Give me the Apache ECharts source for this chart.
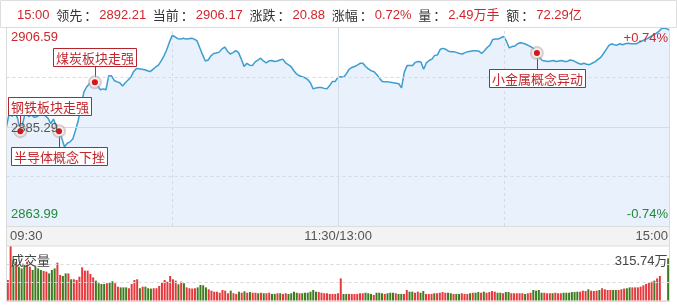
<!DOCTYPE html>
<html><head><meta charset="utf-8">
<script src="https://cdn.jsdelivr.net/npm/echarts@6/dist/echarts.min.js"></script>
<style>html,body{margin:0;padding:0;background:#fff}#c{width:677px;height:308px}</style>
</head><body><div id="c"></div>
<script>
// ---------- data ----------
const times = [];
(function(){
  const f = m => String(Math.floor(m/60)).padStart(2,'0') + ':' + String(m%60).padStart(2,'0');
  for (let m = 9*60+30; m <= 11*60+30; m++) times.push(f(m));
  for (let m = 13*60+1; m <= 15*60; m++) times.push(f(m));
})();

const prevClose = 2885.29;
const priceMax = 2906.59;
const priceMin = 2863.99;
const pctLabels = ['+0.74%', '-0.74%'];
const timeLabels = ['09:30', '11:30/13:00', '15:00'];
const volMax = 315.74;
const volMaxLabel = '315.74万';
const volTitle = '成交量';

const headerTime = '15:00';
const headerLabels = ['领先', '当前', '涨跌', '涨幅', '量', '额'];
const headerValues = ['2892.21', '2906.17', '20.88', '0.72%', '2.49万手', '72.29亿'];

const prices = [
2885.4,2888.3,2887.6,2888.5,2887.2,2884.4,2886.4,2888.9,2887.5,2887.9,
2887.4,2887.5,2887.9,2888.1,2887.7,2887.2,2886.0,2887.0,2885.5,2884.4,
2882.9,2881.05,2881.8,2882.1,2882.7,2884.6,2886.8,2889.8,2892.8,2893.9,
2894.6,2895.1,2894.9,2894.1,2893.3,2893.5,2893.3,2896.3,2896.3,2895.3,
2895.0,2894.8,2894.1,2894.8,2895.4,2896.0,2897.2,2897.9,2897.8,2897.7,
2897.6,2897.4,2897.2,2897.7,2898.2,2898.6,2899.5,2900.6,2901.9,2903.6,
2905.0,2904.7,2904.3,2904.2,2904.4,2904.2,2904.3,2904.4,2904.2,2903.8,
2902.3,2900.8,2899.5,2899.7,2900.6,2901.1,2901.2,2901.4,2902.1,2902.5,
2901.6,2901.0,2901.3,2901.7,2901.3,2899.9,2898.3,2899.0,2898.6,2898.5,
2899.3,2899.7,2900.1,2899.5,2899.1,2899.5,2899.6,2899.4,2899.5,2899.7,
2899.9,2899.1,2898.7,2898.3,2897.4,2896.7,2896.3,2896.1,2895.9,2895.5,
2894.8,2893.5,2893.7,2893.8,2893.8,2893.6,2893.5,2894.2,2895.1,2895.1,
2896.0,2896.1,2896.0,2896.7,2897.7,2898.1,2898.3,2898.6,2899.0,2899.0,
2898.3,2897.8,2897.4,2897.2,2896.6,2895.8,2895.1,2895.0,2895.0,2894.9,
2894.8,2894.7,2894.6,2893.7,2897.1,2898.5,2898.5,2898.5,2899.2,2899.4,
2899.3,2897.7,2899.1,2899.6,2899.9,2900.7,2900.8,2902.0,2902.2,2902.0,
2901.6,2901.5,2901.5,2901.3,2901.1,2901.0,2901.3,2901.5,2901.6,2901.7,
2901.7,2901.6,2901.1,2901.7,2902.4,2902.9,2904.1,2904.2,2904.2,2904.5,
2904.8,2903.7,2902.3,2902.6,2902.7,2903.2,2903.4,2903.3,2903.1,2902.8,
2902.5,2902.1,2901.2,2900.2,2899.6,2899.5,2899.4,2899.5,2899.6,2899.4,
2899.5,2899.6,2899.4,2899.4,2899.7,2899.6,2899.3,2899.0,2898.8,2899.0,
2898.8,2898.7,2899.0,2899.3,2899.8,2900.2,2901.0,2901.9,2902.8,2903.2,
2903.0,2902.9,2903.2,2903.0,2903.2,2903.3,2903.2,2903.2,2903.2,2903.5,
2903.8,2904.1,2904.3,2904.7,2905.0,2905.4,2905.8,2906.4,2906.59,2906.4,
2906.17];

const volumes = [
118.8,315.74,234.6,225,196,186,206,225,196,177,
196,186,177,171,167,157,177,186,219,148,
142,157,157,123,123,119,138,192,173,173,
154,134,115,100,96,96,100,103,111,100,
80,76,76,76,71,96,119,123,71,80,
80,71,69,71,71,84,103,119,109,142,
123,115,94,109,100,76,71,69,71,76,
90,88,76,65,57,51,51,45,61,57,
42,57,42,38,51,45,53,45,49,45,
45,42,45,42,42,45,38,38,42,42,
38,42,38,42,51,45,42,42,45,45,
51,61,51,49,45,42,42,38,38,38,
42,128,38,38,38,38,38,38,42,42,
45,42,38,32,45,45,42,38,42,45,
45,42,38,38,38,61,51,51,45,51,
45,55,38,38,38,42,42,45,49,45,
45,42,38,38,38,42,38,38,42,45,
45,49,45,51,45,49,55,51,45,45,
42,49,49,42,42,42,42,42,38,42,
45,61,57,61,45,45,42,42,42,45,
42,42,45,45,45,49,49,51,51,57,
55,65,57,55,57,61,71,65,61,61,
61,61,61,65,69,71,76,76,76,76,
80,88,96,103,109,115,128,142,1.5,1.5,
244];

// 1 = up minute (red), -1 = down minute (green)
const volDir = [
 1, 1,-1, 1,-1,-1,-1, 1, 1,-1,
-1,-1,-1, 1, 1,-1,-1,-1, 1, 1,
-1,-1, 1,-1, 1, 1, 1, 1, 1, 1,
 1, 1,-1,-1,-1,-1, 1,-1,-1, 1,
 1,-1,-1,-1, 1, 1, 1, 1,-1, 1,
-1,-1,-1, 1, 1, 1, 1, 1, 1, 1,
 1, 1,-1, 1,-1, 1, 1, 1, 1,-1,
-1,-1,-1, 1, 1, 1, 1, 1, 1, 1,
 1,-1, 1, 1,-1, 1,-1, 1,-1, 1,
 1,-1, 1,-1, 1, 1,-1,-1, 1,-1,
 1, 1,-1,-1,-1,-1, 1,-1,-1,-1,
-1,-1,-1, 1, 1, 1, 1, 1, 1, 1,
 1, 1,-1,-1, 1, 1, 1, 1, 1, 1,
-1,-1,-1, 1,-1,-1,-1, 1,-1,-1,
-1, 1,-1,-1, 1, 1,-1,-1, 1, 1,
-1,-1, 1, 1, 1,-1, 1, 1, 1, 1,
-1,-1, 1,-1,-1, 1, 1, 1,-1, 1,
-1,-1, 1,-1, 1, 1, 1, 1,-1,-1,
 1,-1,-1, 1, 1, 1, 1, 1,-1, 1,
 1,-1,-1,-1,-1, 1, 1, 1,-1, 1,
 1, 1,-1,-1,-1,-1,-1,-1, 1, 1,
 1,-1, 1, 1, 1,-1, 1, 1, 1, 1,
-1,-1, 1, 1, 1,-1,-1, 1, 1, 1,
 1, 1, 1, 1, 1,-1, 1, 1, 1, 1,
-1];

const annIndex = [5, 19, 32, 192];
const annTexts = ['钢铁板块走强', '半导体概念下挫', '煤炭板块走强', '小金属概念异动'];
// layout (not data): -1 box above the point, 1 box below
const annSide = [-1, 1, -1, 1];

// ---------- styles ----------
const RED = '#d0262c', GREEN = '#22893a', GRAY = '#555';
const FONT = '"Liberation Sans", Arial, "Noto Sans CJK SC", sans-serif';
const CJK = '"Noto Sans CJK SC", sans-serif';
const GL = {left: 6.5, right: 7.5, top: 28, height: 198};
const GV = {left: 6.5, right: 7.5, top: 246, height: 54.5};
const gridLine = '#d3dbe6';

const chart = echarts.init(document.getElementById('c'), null, {renderer: 'canvas'});

function ml(data) {
  return {silent: true, symbol: 'none', animation: false, label: {show: false}, data: data};
}
const dashed = {color: gridLine, type: [3, 3], width: 1};
const solid = {color: gridLine, type: 'solid', width: 1};

chart.setOption({
  animation: false,
  backgroundColor: '#fff',
  grid: [
    Object.assign({show: true, backgroundColor: '#fff', borderWidth: 0}, GL),
    Object.assign({show: false}, GV)
  ],
  xAxis: [
    {type: 'category', data: times, boundaryGap: false, gridIndex: 0, show: false},
    {type: 'category', data: times, boundaryGap: true, gridIndex: 1, show: false}
  ],
  yAxis: [
    {type: 'value', min: priceMin, max: priceMax, gridIndex: 0, show: false, splitLine: {show: false}},
    {type: 'value', min: 0, max: volMax, gridIndex: 1, show: false, splitLine: {show: false}}
  ],
  series: [
    {
      type: 'line', xAxisIndex: 0, yAxisIndex: 0, data: prices, symbol: 'none', smooth: false,
      lineStyle: {color: '#3d9dd0', width: 1.5},
      areaStyle: {color: '#e8f1fc', origin: 'start', opacity: 1},
      z: 2,
      markLine: ml([
        {yAxis: (priceMax + prevClose) / 2, lineStyle: dashed},
        {yAxis: (priceMin + prevClose) / 2, lineStyle: dashed},
        {yAxis: prevClose, lineStyle: solid},
        {xAxis: times[60], lineStyle: dashed},
        {xAxis: times[180], lineStyle: dashed},
        {xAxis: times[120], lineStyle: solid}
      ])
    },
    {
      type: 'bar', xAxisIndex: 1, yAxisIndex: 1, barWidth: 2,
      data: volumes.map((v, i) => ({value: v, itemStyle: {color: volDir[i] > 0 ? '#e6393d' : '#3e7c1f'}})),
      markLine: ml([
        {yAxis: volMax / 3, lineStyle: {color: '#d8d8d8', type: [3, 3], width: 1}},
        {yAxis: volMax * 2 / 3, lineStyle: {color: '#d8d8d8', type: [3, 3], width: 1}}
      ]),
      z: 3
    },
    {
      type: 'custom', xAxisIndex: 0, yAxisIndex: 0, clip: false, z: 10,
      data: annIndex.map(i => [i, prices[i]]),
      encode: {x: 0, y: 1},
      renderItem: function (params, api) {
        const k = params.dataIndex;
        const pt = api.coord([api.value(0), api.value(1)]);
        const txt = annTexts[k];
        const side = annSide[k];
        const w = txt.length * 13 + 5, h = 18;
        let bx = Math.max(pt[0] - w / 2, params.coordSys.x + 1);
        bx = Math.round(bx) + 0.5;
        const by = Math.round(pt[1] + side * 25 - h / 2) + 0.5;
        const edgeY = side < 0 ? by + h : by;
        const px = Math.round(pt[0]) + 0.5;
        return {type: 'group', children: [
          {type: 'line', shape: {x1: px, y1: pt[1], x2: px, y2: edgeY}, style: {stroke: '#c1272d', lineWidth: 1}},
          {type: 'rect', shape: {x: bx, y: by, width: w, height: h}, style: {fill: '#fff', stroke: '#b3262b', lineWidth: 1}},
          {type: 'text', style: {text: txt, x: bx + w / 2, y: by + h / 2 + 0.5, align: 'center', verticalAlign: 'middle', fill: '#c1272d', font: '13px ' + CJK}},
          {type: 'circle', shape: {cx: pt[0], cy: pt[1], r: 7}, style: {fill: 'rgba(185,165,165,0.55)'}},
          {type: 'circle', shape: {cx: pt[0], cy: pt[1], r: 5}, style: {fill: '#f3eded'}},
          {type: 'circle', shape: {cx: pt[0], cy: pt[1], r: 3}, style: {fill: '#d3151c'}}
        ]};
      }
    }
  ]
});

// ---------- texts & frames positioned through the axes ----------
const yTop = chart.convertToPixel({xAxisIndex: 0, yAxisIndex: 0}, [0, priceMax])[1];
const yBot = chart.convertToPixel({xAxisIndex: 0, yAxisIndex: 0}, [0, priceMin])[1];
const yMid = chart.convertToPixel({xAxisIndex: 0, yAxisIndex: 0}, [0, prevClose])[1];
const xL = chart.convertToPixel({xAxisIndex: 0, yAxisIndex: 0}, [0, prevClose])[0];
const xR = chart.convertToPixel({xAxisIndex: 0, yAxisIndex: 0}, [times.length - 1, prevClose])[0];
const xMid = chart.convertToPixel({xAxisIndex: 0, yAxisIndex: 0}, [120, prevClose])[0];
const vTop = chart.convertToPixel({xAxisIndex: 1, yAxisIndex: 1}, [0, volMax])[1];
const vBot = chart.convertToPixel({xAxisIndex: 1, yAxisIndex: 1}, [0, 0])[1];

function txt(text, x, y, color, align, font) {
  return {type: 'text', silent: true, z: 20, style: {text: text, x: x, y: y, fill: color, align: align || 'left', verticalAlign: 'middle', font: '13px ' + (font || FONT)}};
}

let headerRich = '{t|' + headerTime + '}';
headerLabels.forEach((l, i) => { headerRich += '  {l|' + l + '}{c|：}{t|' + headerValues[i] + '}'; });

const bandTop = yBot + 0.5, bandBot = vTop;
chart.setOption({
  graphic: [
    {type: 'rect', silent: true, z: 1, shape: {x: 0.5, y: 0.5, width: 676, height: 27}, style: {fill: '#fff', stroke: '#dedede', lineWidth: 1}},
    {type: 'text', silent: true, z: 20, style: {
      text: headerRich, x: 17, y: 15, verticalAlign: 'middle',
      rich: {
        t: {fill: RED, font: '13px ' + FONT},
        l: {fill: '#333', font: '13px ' + CJK},
        c: {fill: '#333', font: '13px ' + CJK, width: 17, align: 'center'}
      }
    }},
    // axis band
    {type: 'rect', silent: true, z: 5, shape: {x: xL, y: bandTop, width: xR - xL, height: bandBot - bandTop}, style: {fill: '#f3f3f3', stroke: '#dcdcdc', lineWidth: 1}},
    // frame
    {type: 'rect', silent: true, z: 6, shape: {x: xL, y: 27.5, width: xR - xL, height: vBot - 27.5 + 1}, style: {fill: 'none', stroke: '#dcdcdc', lineWidth: 1}},
    txt(priceMax.toFixed(2), xL + 4.5, yTop + 9.5, RED),
    txt(prevClose.toFixed(2), xL + 4.5, yMid + 1, GRAY),
    txt(priceMin.toFixed(2), xL + 4.5, yBot - 12, GREEN),
    txt(pctLabels[0], xR - 1.5, yTop + 10, RED, 'right'),
    txt(pctLabels[1], xR - 1.5, yBot - 12, GREEN, 'right'),
    txt(timeLabels[0], xL + 3.5, (bandTop + bandBot) / 2, GRAY),
    txt(timeLabels[1], xMid, (bandTop + bandBot) / 2, GRAY, 'center'),
    txt(timeLabels[2], xR - 1.5, (bandTop + bandBot) / 2, GRAY, 'right'),
    txt(volTitle, xL + 4.5, vTop + 14, '#444', 'left', CJK),
    txt(volMaxLabel, xR - 2, vTop + 15, '#444', 'right')
  ]
});
</script>
</body></html>
